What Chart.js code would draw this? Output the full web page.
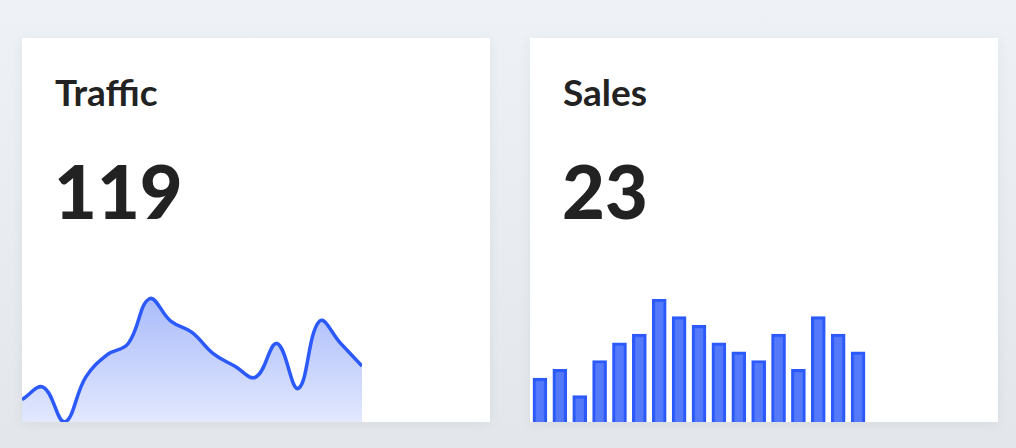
<!DOCTYPE html>
<html>
<head>
<meta charset="utf-8">
<script src="https://cdn.jsdelivr.net/npm/chart.js@4"></script>
<style>
  html, body { margin: 0; padding: 0; }
  body {
    width: 1016px; height: 448px; overflow: hidden;
    background: linear-gradient(180deg, #eef2f6 0%, #e3e7eb 100%);
    font-family: Lato, "Noto Sans", sans-serif; color: #222;
  }
  .card {
    position: absolute; top: 38px; width: 468px; height: 384px;
    background: #fff; box-shadow: 0 2px 12px rgba(0,0,0,0.06);
  }
  .card h3 { position: absolute; left: 33px; top: 35px; margin: 0; font-size: 37px; font-weight: 700; line-height: 1; }
  .card .num { position: absolute; left: 32px; top: 116px; margin: 0; font-size: 74px; font-weight: 900; line-height: 1; }
  .chart { position: absolute; left: 0; bottom: 0; width: 340px; height: 130px; }
  #c2 .chart { left: 0; width: 338px; height: 123px; }
</style>
</head>
<body>
<div class="card" id="c1" style="left:22px">
  <h3>Traffic</h3>
  <div class="num">119</div>
  <div class="chart"><canvas id="traffic-chart"></canvas></div>
</div>
<div class="card" id="c2" style="left:530px">
  <h3>Sales</h3>
  <div class="num">23</div>
  <div class="chart"><canvas id="sales-chart"></canvas></div>
</div>
<script>
const labels = ['1','2','3','4','5','6','7','8','9','10','11','12','13','14','15','16','17'];
const trafficValues = [2, 3.1, 0, 4, 6, 7, 11, 9, 8, 6.1, 5, 4, 7, 3, 9, 7, 5];
const salesValues = [5, 6, 3, 7, 9, 10, 14, 12, 11, 9, 8, 7, 10, 6, 12, 10, 8];

const blue = 'rgba(44, 90, 250, 1)';

const baseOptions = (max) => ({
  responsive: true,
  maintainAspectRatio: false,
  animation: false,
  layout: { padding: 0 },
  plugins: { legend: { display: false }, tooltip: { enabled: false } },
  scales: {
    x: { display: false },
    y: { display: false, min: 0, max: max }
  }
});

const tctx = document.getElementById('traffic-chart').getContext('2d');
const grad = tctx.createLinearGradient(0, 0, 0, 130);
grad.addColorStop(0, 'rgba(60, 100, 245, 0.45)');
grad.addColorStop(1, 'rgba(60, 100, 245, 0.15)');

new Chart(tctx, {
  type: 'line',
  data: {
    labels: labels,
    datasets: [{
      data: trafficValues,
      borderColor: blue,
      borderWidth: 3.5,
      backgroundColor: grad,
      fill: true,
      tension: 0.4,
      pointRadius: 0
    }]
  },
  options: Object.assign(baseOptions(11.6), { clip: false })
});

new Chart(document.getElementById('sales-chart'), {
  type: 'bar',
  data: {
    labels: labels,
    datasets: [{
      data: salesValues,
      backgroundColor: 'rgba(75, 115, 250, 0.95)',
      borderColor: blue,
      borderWidth: 3,
      barThickness: 14
    }]
  },
  options: baseOptions(14)
});
</script>
</body>
</html>
